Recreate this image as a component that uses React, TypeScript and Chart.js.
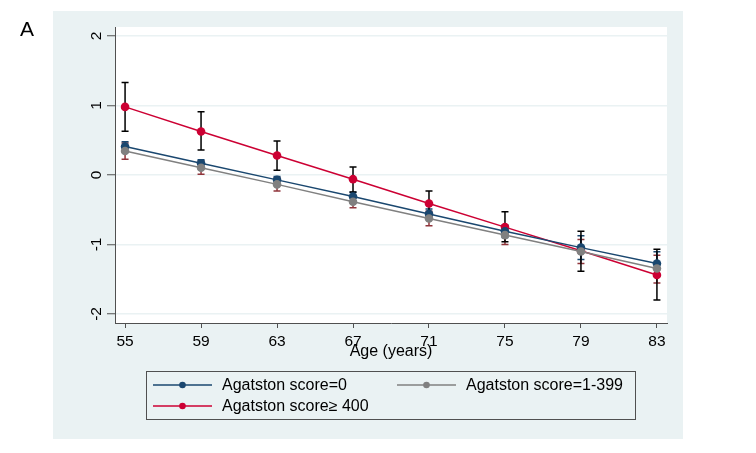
import { useEffect, useRef } from 'react';
import { Chart, registerables } from 'chart.js';

Chart.register(...registerables);

// ---- data ----
const ages = [55, 59, 63, 67, 71, 75, 79, 83];
const yTickValues = [-2, -1, 0, 1, 2];

const score0 = [0.41, 0.17, -0.07, -0.31, -0.56, -0.81, -1.045, -1.275];
const score0Lo = [0.34, 0.12, -0.12, -0.37, -0.63, -0.9, -1.215, -1.445];
const score0Hi = [0.48, 0.22, -0.02, -0.25, -0.49, -0.72, -0.875, -1.105];

const score1to399 = [0.345, 0.105, -0.135, -0.385, -0.625, -0.865, -1.1, -1.345];
const score1to399Lo = [0.227, 0.01, -0.23, -0.47, -0.73, -1.0, -1.275, -1.555];
const score1to399Hi = [0.46, 0.2, -0.04, -0.3, -0.52, -0.73, -0.93, -1.155];

const score400 = [0.98, 0.625, 0.28, -0.06, -0.41, -0.75, -1.09, -1.44];
const score400Lo = [0.63, 0.36, 0.07, -0.245, -0.59, -0.96, -1.385, -1.8];
const score400Hi = [1.33, 0.91, 0.49, 0.115, -0.23, -0.53, -0.81, -1.07];

const labels = ['Agatston score=0', 'Agatston score=1-399', 'Agatston score\u2265 400'];

const NAVY = 'rgb(26,71,111)';
const GRAY = 'rgb(128,128,128)';
const RED = 'rgb(204,0,51)';
const PANEL = 'rgb(234,242,243)';
const AXIS = 'rgb(80,80,80)';
const FONT = '"Liberation Sans", Arial, sans-serif';

const errorBars = [
  { lo: score1to399Lo, hi: score1to399Hi, color: 'rgb(144,53,59)' },
  { lo: score0Lo, hi: score0Hi, color: NAVY },
  { lo: score400Lo, hi: score400Hi, color: 'rgb(0,0,0)' },
];

const decorPlugin = {
  id: 'decor',
  beforeDraw(chart: any) {
    const { ctx, chartArea } = chart;
    ctx.save();
    ctx.fillStyle = '#ffffff';
    ctx.fillRect(0, 0, chart.width, chart.height);
    ctx.fillStyle = PANEL;
    ctx.fillRect(53, 11, 630, 428);
    ctx.fillStyle = '#ffffff';
    ctx.fillRect(chartArea.left, chartArea.top, chartArea.right - chartArea.left, chartArea.bottom - chartArea.top);
    ctx.restore();
  },
  beforeDatasetsDraw(chart: any) {
    const { ctx } = chart;
    const xs = chart.scales.x;
    const ys = chart.scales.y;
    ctx.save();
    ctx.lineWidth = 1.5;
    errorBars.forEach((eb) => {
      ctx.strokeStyle = eb.color;
      ages.forEach((a, i) => {
        const x = xs.getPixelForValue(a);
        const y1 = ys.getPixelForValue(eb.lo[i]);
        const y2 = ys.getPixelForValue(eb.hi[i]);
        ctx.beginPath();
        ctx.moveTo(x, y1);
        ctx.lineTo(x, y2);
        ctx.moveTo(x - 3.5, y1);
        ctx.lineTo(x + 3.5, y1);
        ctx.moveTo(x - 3.5, y2);
        ctx.lineTo(x + 3.5, y2);
        ctx.stroke();
      });
    });
    ctx.restore();
  },
  afterDraw(chart: any) {
    const { ctx } = chart;
    const ys = chart.scales.y;
    ctx.save();
    // rotated y tick labels
    ctx.fillStyle = '#000';
    ctx.font = `15.5px ${FONT}`;
    ctx.textAlign = 'center';
    ctx.textBaseline = 'middle';
    yTickValues.forEach((v) => {
      const y = ys.getPixelForValue(v);
      ctx.save();
      ctx.translate(97, y);
      ctx.rotate(-Math.PI / 2);
      ctx.fillText(String(v), 0, 0);
      ctx.restore();
    });
    // panel label
    ctx.font = `21px ${FONT}`;
    ctx.textAlign = 'left';
    ctx.textBaseline = 'alphabetic';
    ctx.fillText('A', 20, 36);

    // legend
    ctx.strokeStyle = AXIS;
    ctx.lineWidth = 1;
    ctx.strokeRect(146.5, 371.5, 489, 48);
    const items = [
      { x: 153, y: 385, color: NAVY, label: labels[0] },
      { x: 397, y: 385, color: GRAY, label: labels[1] },
      { x: 153, y: 406, color: RED, label: labels[2] },
    ];
    ctx.font = `16px ${FONT}`;
    ctx.textBaseline = 'middle';
    items.forEach((it) => {
      ctx.strokeStyle = it.color;
      ctx.lineWidth = 1.5;
      ctx.beginPath();
      ctx.moveTo(it.x, it.y);
      ctx.lineTo(it.x + 59, it.y);
      ctx.stroke();
      ctx.fillStyle = it.color;
      ctx.beginPath();
      ctx.arc(it.x + 29.5, it.y, 3.3, 0, Math.PI * 2);
      ctx.fill();
      ctx.fillStyle = '#000';
      ctx.fillText(it.label, it.x + 69, it.y + 1);
    });
    ctx.restore();
  },
};

export default function App() {
  const ref = useRef<HTMLCanvasElement | null>(null);

  useEffect(() => {
    if (!ref.current) return;
    const mk = (label: string, data: number[], color: string) => ({
      label,
      data: ages.map((a, i) => ({ x: a, y: data[i] })),
      borderColor: color,
      backgroundColor: color,
      borderWidth: 1.5,
      pointRadius: 4.3,
      pointBorderWidth: 0,
      pointBackgroundColor: color,
      tension: 0,
      showLine: true,
    });
    const chart = new Chart(ref.current, {
      type: 'scatter',
      data: {
        datasets: [
          mk(labels[1], score1to399, GRAY),
          mk(labels[0], score0, NAVY),
          mk(labels[2], score400, RED),
        ],
      },
      options: {
        responsive: false,
        animation: false,
        devicePixelRatio: 1,
        layout: { padding: { left: 0, top: 27, right: 89, bottom: 91.4 } },
        plugins: { legend: { display: false }, tooltip: { enabled: false } },
        scales: {
          x: {
            type: 'linear',
            min: 54.47,
            max: 83.53,
            afterBuildTicks: (s: any) => {
              s.ticks = ages.map((v) => ({ value: v }));
            },
            afterFit: (s: any) => {
              s.height = 38.6;
            },
            grid: { drawOnChartArea: false, tickLength: 5, tickColor: AXIS, tickWidth: 1 },
            border: { display: true, color: AXIS, width: 1 },
            ticks: {
              autoSkip: false,
              maxRotation: 0,
              color: '#000',
              padding: 4,
              font: { size: 15.5, family: FONT },
              callback: (v: any) => String(v),
            },
            title: {
              display: true,
              text: 'Age (years)',
              color: '#000',
              font: { size: 16, family: FONT },
              padding: 0,
            },
          },
          y: {
            type: 'linear',
            min: -2.13,
            max: 2.13,
            afterBuildTicks: (s: any) => {
              s.ticks = yTickValues.map((v) => ({ value: v }));
            },
            afterFit: (s: any) => {
              s.width = 115;
            },
            grid: { color: PANEL, lineWidth: 1.5, tickLength: 8, tickColor: AXIS, tickWidth: 1 },
            border: { display: true, color: AXIS, width: 1 },
            ticks: { display: false },
          },
        },
      },
      plugins: [decorPlugin],
    });
    return () => chart.destroy();
  }, []);

  return (
    <div style={{ position: 'fixed', left: 0, top: 0, width: 756, height: 453 }}>
      <canvas ref={ref} width={756} height={453} style={{ width: 756, height: 453, display: 'block' }} />
    </div>
  );
}
